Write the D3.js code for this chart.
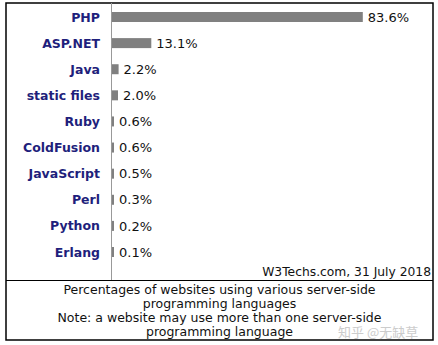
<!DOCTYPE html>
<html>
<head>
<meta charset="utf-8">
<script src="https://cdn.jsdelivr.net/npm/d3@7"></script>
<style>
  body { margin: 0; background: #fff; }
  svg { display: block; }
</style>
</head>
<body>
<div id="chart"></div>
<script>
// Dữ liệu
const languages = ["PHP", "ASP.NET", "Java", "static files", "Ruby", "ColdFusion", "JavaScript", "Perl", "Python", "Erlang"];
const shares = [83.6, 13.1, 2.2, 2.0, 0.6, 0.6, 0.5, 0.3, 0.2, 0.1];
const sourceText = "W3Techs.com, 31 July 2018";
const captionLines = [
  "Percentages of websites using various server-side",
  "programming languages",
  "Note: a website may use more than one server-side",
  "programming language"
];
const watermark = "知乎 @无缺草";

const W = 438, H = 345;
const box = { left: 6, top: 3, right: 433, bottom: 340 };
const dividerY = 280, labelColX = 111;

const svg = d3.select("#chart")
  .append("svg")
    .attr("width", W)
    .attr("height", H);

const data = languages.map((name, i) => ({ name, value: shares[i] }));

// Scales
const x = d3.scaleLinear().domain([0, 100]).range([112, 412]);
const y = d3.scalePoint().domain(languages).range([17, 252]);

// Khung ngoài
svg.append("rect")
  .attr("x", box.left).attr("y", box.top)
  .attr("width", box.right - box.left).attr("height", box.bottom - box.top)
  .attr("fill", "#fff").attr("stroke", "#000").attr("stroke-width", 1.5);

// Đường chia cột nhãn
svg.append("line")
  .attr("x1", labelColX + 0.5).attr("x2", labelColX + 0.5)
  .attr("y1", box.top).attr("y2", dividerY)
  .attr("stroke", "#999").attr("stroke-width", 1);

// Đường chia chú thích
svg.append("line")
  .attr("x1", box.left).attr("x2", box.right)
  .attr("y1", dividerY + 0.5).attr("y2", dividerY + 0.5)
  .attr("stroke", "#000").attr("stroke-width", 1);

// Nhãn ngôn ngữ
svg.selectAll("text.name")
  .data(data)
  .enter()
  .append("text")
    .attr("class", "name")
    .attr("x", 100)
    .attr("y", d => y(d.name))
    .attr("dy", "0.36em")
    .attr("text-anchor", "end")
    .style("font-family", "'DejaVu Sans', Verdana, sans-serif")
    .style("font-weight", "bold")
    .style("font-size", "12.5px")
    .style("fill", "#1f1f7c")
    .text(d => d.name);

// Cột
const barW = d => Math.max(x(d.value) - x(0), 2);
svg.selectAll("rect.bar")
  .data(data)
  .enter()
  .append("rect")
    .attr("class", "bar")
    .attr("x", x(0))
    .attr("y", d => y(d.name) - 5)
    .attr("width", barW)
    .attr("height", 10)
    .attr("fill", "#808080");

// Nhãn giá trị
svg.selectAll("text.value")
  .data(data)
  .enter()
  .append("text")
    .attr("class", "value")
    .attr("x", d => x(0) + barW(d) + 5)
    .attr("y", d => y(d.name))
    .attr("dy", "0.36em")
    .style("font-family", "'DejaVu Sans', Verdana, sans-serif")
    .style("font-size", "13px")
    .style("fill", "#111")
    .text(d => d.value.toFixed(1) + "%");

// Nguồn
svg.append("text")
  .attr("x", box.right - 2)
  .attr("y", 276)
  .attr("text-anchor", "end")
  .style("font-family", "'DejaVu Sans', Verdana, sans-serif")
  .style("font-size", "12.3px")
  .style("fill", "#111")
  .text(sourceText);

// Chú thích
svg.selectAll("text.caption")
  .data(captionLines)
  .enter()
  .append("text")
    .attr("class", "caption")
    .attr("x", (box.left + box.right) / 2)
    .attr("y", (d, i) => 294 + i * 14)
    .attr("text-anchor", "middle")
    .style("font-family", "'DejaVu Sans', Verdana, sans-serif")
    .style("font-size", "12.5px")
    .style("fill", "#111")
    .text(d => d);

// Watermark (hạ xuống một chút để không đè chữ)
svg.append("text")
  .attr("x", 338)
  .attr("y", 337)
  .style("font-family", "'Noto Sans CJK SC', sans-serif")
  .style("font-size", "13px")
  .style("fill", "#c4c4c4")
  .style("opacity", 0.85)
  .text(watermark);
</script>
</body>
</html>
